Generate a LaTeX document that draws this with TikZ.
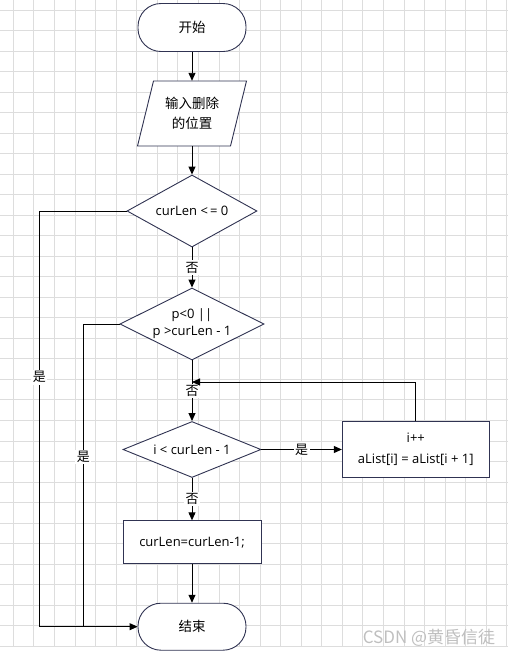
\documentclass[tikz,border=0pt]{standalone}
\usepackage{fontspec}
\setmainfont{Open Sans}
\newfontfamily\cjk{Noto Sans CJK SC}
\usetikzlibrary{shapes.geometric,arrows.meta}
\definecolor{shapeline}{HTML}{303352}
\definecolor{gridgray}{HTML}{DDDDDD}
\tikzset{
  base/.style={draw=shapeline,line width=0.9pt,fill=white,align=center,inner sep=1pt},
  term/.style={base,rectangle,rounded corners=23pt,minimum width=108pt,minimum height=48pt,font=\cjk\fontsize{13.5}{20}\selectfont},
  io/.style={rectangle,align=center,minimum width=93pt,minimum height=65pt,font=\cjk\fontsize{13.5}{20}\selectfont},
  decide/.style={base,diamond,inner sep=0pt},
  proc/.style={base,rectangle},
  arr/.style={line width=0.9pt,-{Triangle[length=8pt,width=7pt]}},
  link/.style={line width=0.9pt},
  lbl/.style={fill=white,inner sep=1.5pt,font=\cjk\fontsize{13}{16}\selectfont},
}
\begin{document}
\begin{tikzpicture}[x=1pt,y=-1pt,font=\fontsize{13}{17}\selectfont]
  \useasboundingbox (0,0) rectangle (508,657);
  % background grid
  \foreach \i in {0,...,24}
    \draw[gridgray,line width=0.8pt] ({13.3+20.56*\i},0) -- ({13.3+20.56*\i},647);
  \foreach \j in {0,...,31}
    \draw[gridgray,line width=0.8pt] (0,{10+20.52*\j}) -- (508,{10+20.52*\j});

  % boxes
  \node[term] (start) at (192,27.5) {开始};
  \draw[shapeline,line width=0.9pt,fill=white]
    (153.5,81) -- (246.5,81) -- (230.5,146) -- (137.5,146) -- cycle;
  \node[io] (input) at (192,113.5) {输入删除\\的位置};
  \node[decide,aspect=1.8,minimum width=130pt,minimum height=72pt] (d1) at (192,211) {curLen <\,= 0};
  \node[decide,aspect=2,minimum width=144pt,minimum height=72pt] (d2) at (192,324) {p<0 ||\\p >curLen - 1};
  \node[decide,aspect=2.46,minimum width=138pt,minimum height=56pt] (d3) at (192,449.5) {i < curLen - 1};
  \node[proc,minimum width=147pt,minimum height=56pt,font=\fontsize{13}{20.5}\selectfont] (body) at (415.8,449.5) {i++\\aList[i] = aList[i + 1]};
  \node[proc,minimum width=138pt,minimum height=43pt] (dec) at (192,542.3) {curLen=curLen-1;};
  \node[term,minimum height=47pt] (stop) at (192,626.7) {结束};

  \coordinate (back) at (192,382);
  \coordinate (outer) at (39.3,626.7);
  \coordinate (inner) at (83.3,626.7);

  % arrows
  \draw[arr] (start) -- (input);
  \draw[arr] (input) -- (d1);
  \draw[arr] (d1) -- node[lbl]{否} (d2);
  \draw[arr] (d2) -- node[lbl]{否} (d3);
  \draw[arr] (d3) -- node[lbl]{是} (body);
  \draw[arr] (d3) -- node[lbl]{否} (dec);
  \draw[arr] (dec) -- (stop);
  \draw[arr] (body.north) |- (back);
  \draw[arr] (d1.west) -| node[lbl,pos=0.7]{是} (outer) -- (stop.west);
  \draw[link] (d2.west) -| node[lbl,pos=0.72]{是} (inner);

  \node[text=gray!50,font=\cjk\fontsize{17}{20}\selectfont] (mark) at (429,638) {CSDN @黄昏信徒};
\end{tikzpicture}
\end{document}
